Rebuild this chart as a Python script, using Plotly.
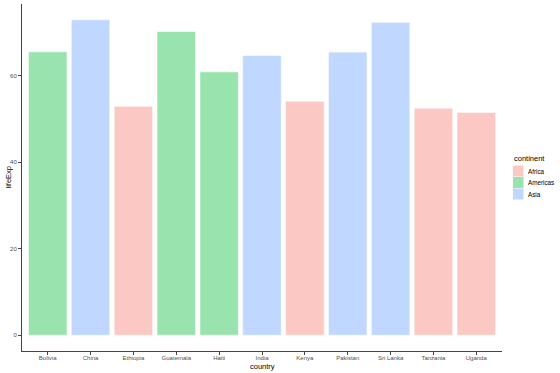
import plotly.graph_objects as go

countries = ["Bolivia", "China", "Ethiopia", "Guatemala", "Haiti", "India",
             "Kenya", "Pakistan", "Sri Lanka", "Tanzania", "Uganda"]
continents = ["Americas", "Asia", "Africa", "Americas", "Americas", "Asia",
              "Africa", "Asia", "Asia", "Africa", "Africa"]
life_exp = [65.554, 72.961, 52.947, 70.259, 60.916, 64.698,
            54.110, 65.483, 72.396, 52.517, 51.542]
legend_order = ["Africa", "Americas", "Asia"]
colors = {"Africa": "#FBC8C4", "Americas": "#99E3AF", "Asia": "#C0D7FF"}

W, H = 560, 373
ML, MR, MT, MB = 22, 58, 4, 22
PW, PH = W - ML - MR, H - MT - MB


def px(x):
    return (x - ML) / PW


def py(y):
    return (H - MB - y) / PH


fig = go.Figure()
for cont in legend_order:
    xs = [c for c, k in zip(countries, continents) if k == cont]
    ys = [v for v, k in zip(life_exp, continents) if k == cont]
    fig.add_trace(go.Bar(x=xs, y=ys, name=cont, width=0.9, showlegend=False,
                         marker=dict(color=colors[cont], line=dict(color="white", width=0.6))))

# manual ggplot-style legend
shapes = []
annotations = [
    dict(text="continent", xref="paper", yref="paper", x=px(512), y=py(159),
         xanchor="left", yanchor="middle", showarrow=False,
         font=dict(size=7.5, color="black")),
]
for i, cont in enumerate(legend_order):
    cy = 171 + 11.5 * i
    shapes.append(dict(type="rect", xref="paper", yref="paper",
                       x0=px(513), x1=px(523.5), y0=py(cy + 5.5), y1=py(cy - 5.5),
                       fillcolor=colors[cont], line=dict(width=0)))
    annotations.append(dict(text=cont, xref="paper", yref="paper",
                            x=px(525.5), y=py(cy), xanchor="left", yanchor="middle",
                            showarrow=False, font=dict(size=6.3, color="black")))

annotations += [
    dict(text="country", xref="paper", yref="paper", x=0.5, y=0, yshift=-15,
         showarrow=False, font=dict(size=7.5, color="black"), yanchor="middle"),
    dict(text="lifeExp", xref="paper", yref="paper", x=0, xshift=-14, y=0.5,
         showarrow=False, textangle=-90, font=dict(size=7.5, color="black"),
         xanchor="center"),
]

fig.update_layout(
    width=W, height=H,
    margin=dict(l=ML, r=MR, t=MT, b=MB),
    paper_bgcolor="white", plot_bgcolor="white",
    barmode="overlay", bargap=0.1,
    font=dict(family="Liberation Sans, Arial, sans-serif", size=6, color="#4D4D4D"),
    showlegend=False,
    shapes=shapes,
    annotations=annotations,
    xaxis=dict(type="category", categoryorder="array", categoryarray=countries,
               range=[-0.6, 10.6], showgrid=False, showline=True, linecolor="#444",
               linewidth=1, ticks="outside", ticklen=3, tickcolor="#444",
               ticklabelstandoff=-2,
               tickfont=dict(size=6, color="#4D4D4D"), zeroline=False, automargin=False),
    yaxis=dict(range=[-3.65, 76.61], showgrid=False, showline=True, linecolor="#444",
               linewidth=1, ticks="outside", ticklen=3, tickcolor="#444",
               tickvals=[0, 20, 40, 60], tickfont=dict(size=6, color="#4D4D4D"),
               zeroline=False, automargin=False),
)

fig.write_html("out.html", config={"displayModeBar": False},
               post_script="document.body.style.margin='0';")
